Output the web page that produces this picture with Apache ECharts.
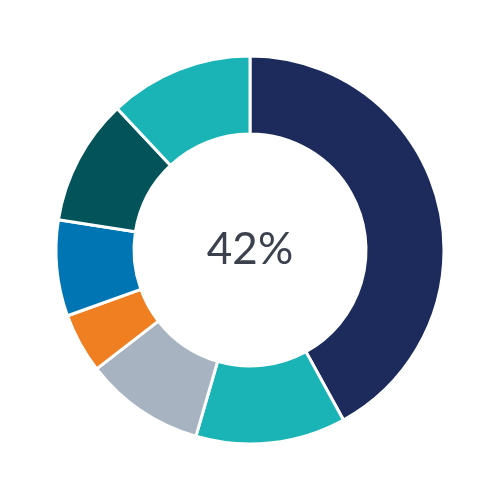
<!DOCTYPE html>
<html>
<head>
    <meta charset="UTF-8">
    <title>Donut</title>
    <script src="https://cdn.jsdelivr.net/npm/echarts@6/dist/echarts.min.js"></script>
    <style>
        body { margin: 0; padding: 0; background: #fff; }
        #main { width: 500px; height: 500px; }
    </style>
</head>
<body>
<div id="main"></div>
<script>
    // slices clockwise from 12 o'clock
    var names = ['A', 'B', 'C', 'D', 'E', 'F', 'G'];
    var values = [42, 12.5, 10, 5, 8, 10.5, 12];
    var colors = ['#1c2b5b', '#1bb4b6', '#a8b3c1', '#f07f22', '#0075b4', '#03545a', '#1bb4b6'];
    var centerText = '42%';

    var chart = echarts.init(document.getElementById('main'), null, {renderer: 'canvas'});
    var data = [];
    for (var i = 0; i < values.length; i++) {
        data.push({name: names[i], value: values[i], itemStyle: {color: colors[i]}});
    }
    chart.setOption({
        animation: false,
        title: {
            text: centerText,
            left: 'center',
            top: 223,
            textStyle: {
                fontFamily: 'Lato',
                fontWeight: 'normal',
                fontSize: 44,
                color: '#3b414d'
            }
        },
        series: [{
            type: 'pie',
            center: [250, 250],
            radius: [116, 194],
            startAngle: 90,
            clockwise: true,
            label: {show: false},
            labelLine: {show: false},
            itemStyle: {borderColor: '#fff', borderWidth: 3},
            data: data
        }]
    });
</script>
</body>
</html>
